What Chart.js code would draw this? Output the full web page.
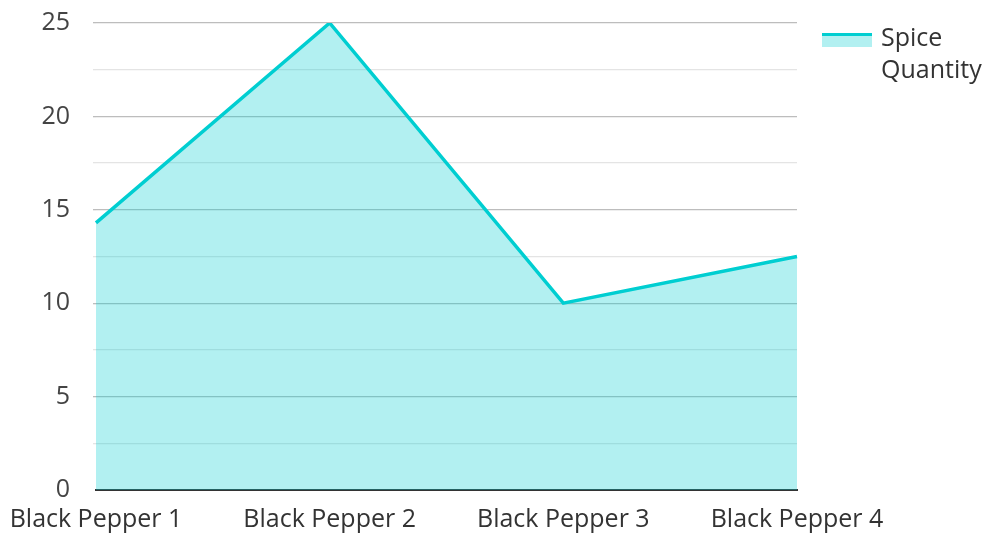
<!DOCTYPE html>
<html>
<head>
<meta charset="utf-8">
<script src="https://cdn.jsdelivr.net/npm/chart.js@4/dist/chart.umd.min.js"></script>
<style>
  html, body { margin: 0; padding: 0; background: #fff; }
  #wrap { position: relative; width: 986px; height: 533px; }
  #legend { position: absolute; left: 822px; top: 20px; font-family: "Open Sans", sans-serif; font-size: 25px; color: #333; display: flex; align-items: flex-start; }
  #legend .box { width: 50px; height: 11px; border-top: 3px solid #00CED1; background: rgba(0,206,209,0.3); margin-top: 13px; margin-right: 9px; }
  #legend .txt { width: 110px; line-height: 32px; }
</style>
</head>
<body>
<div id="wrap">
  <canvas id="c" width="986" height="533"></canvas>
  <div id="legend"></div>
</div>
<script>
const categories = ["Black Pepper 1", "Black Pepper 2", "Black Pepper 3", "Black Pepper 4"];
const seriesLabel = "Spice Quantity";
const spiceQuantity = [14.3, 25, 10, 12.5];
const yMin = 0, yMax = 25, yStep = 2.5;

const lineColor = "#00CED1";
const fillColor = "rgba(0,206,209,0.3)";

document.getElementById('legend').innerHTML =
  '<div class="box"></div><div class="txt">' + seriesLabel.replace(' ', '<br>') + '</div>';

new Chart(document.getElementById('c'), {
  type: 'line',
  data: {
    labels: categories,
    datasets: [{
      label: seriesLabel,
      data: spiceQuantity,
      borderColor: lineColor,
      backgroundColor: fillColor,
      borderWidth: 3.5,
      fill: 'origin',
      tension: 0,
      pointRadius: 0,
      pointHoverRadius: 0
    }]
  },
  options: {
    responsive: false,
    animation: false,
    layout: { padding: { left: 0, right: 189, top: 23, bottom: 0 } },
    plugins: { legend: { display: false }, tooltip: { enabled: false } },
    scales: {
      x: {
        offset: false,
        grid: { display: false, drawTicks: false },
        border: { display: true, color: '#333', width: 2 },
        ticks: { color: '#333', font: { family: 'Open Sans', size: 25 }, padding: 15, maxRotation: 0 },
        afterFit: (s) => { s.height = 43; s.paddingLeft = 0; s.paddingRight = 0; }
      },
      y: {
        min: yMin, max: yMax,
        border: { display: false },
        grid: {
          tickLength: 3,
          color: (ctx) => {
            const v = ctx.tick ? ctx.tick.value : 0;
            if (v === 0) return 'rgba(0,0,0,0)';
            return (Math.abs(v % 5) < 1e-6) ? '#bdbdbd' : '#e4e4e4';
          },
          lineWidth: 1.3
        },
        ticks: {
          stepSize: yStep,
          color: '#444',
          font: { family: 'Open Sans', size: 25 },
          padding: 23,
          callback: (v) => (Math.abs(v % 5) < 1e-6 ? String(v) : '')
        },
        afterFit: (s) => { s.width = 96; s.paddingTop = 0; s.paddingBottom = 0; }
      }
    }
  }
});
</script>
</body>
</html>
